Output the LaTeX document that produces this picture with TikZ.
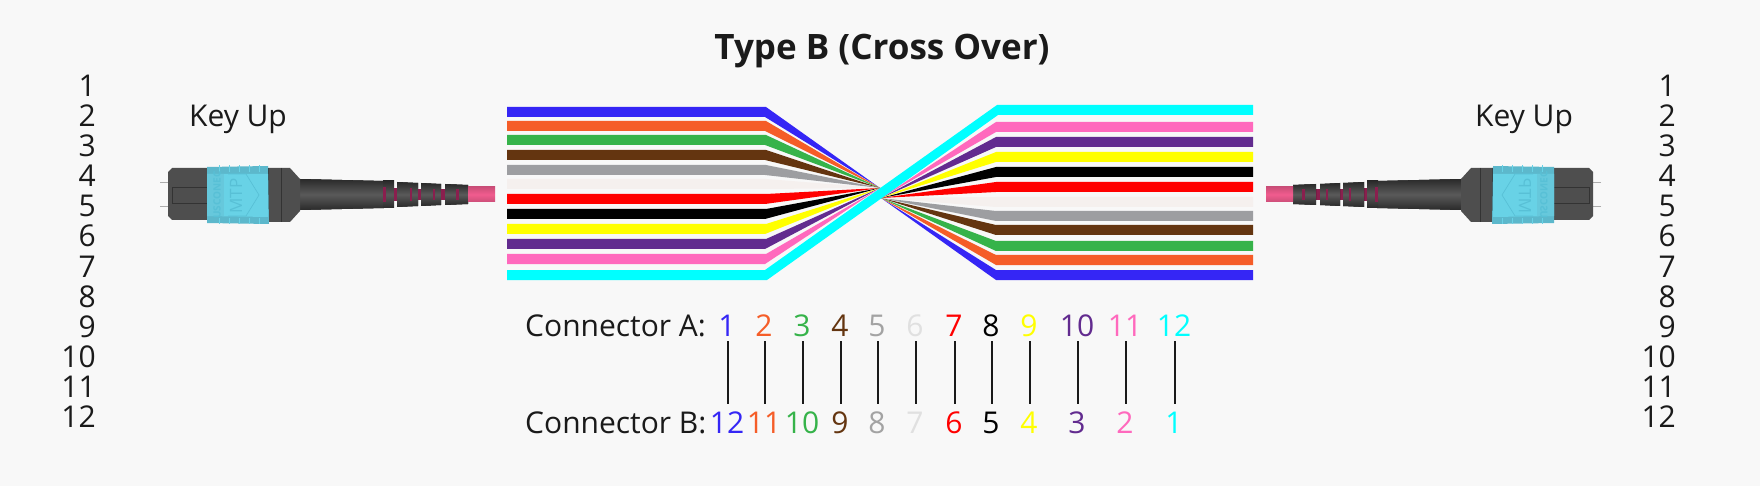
\documentclass[tikz,border=0pt]{standalone}
\usepackage{fontspec}
\setmainfont{Open Sans}
\definecolor{pagebg}{HTML}{F8F8F8}
\definecolor{inkline}{HTML}{1A1A1A}
\definecolor{wireblue}{HTML}{3526F5}
\definecolor{wireorange}{HTML}{F55D28}
\definecolor{wiregreen}{HTML}{36B34A}
\definecolor{wirebrown}{HTML}{643510}
\definecolor{wiregray}{HTML}{9D9EA1}
\definecolor{wirewhite}{HTML}{F5F0EE}
\definecolor{wirered}{HTML}{FF0000}
\definecolor{wireblack}{HTML}{000000}
\definecolor{wireyellow}{HTML}{FFFF00}
\definecolor{wirepurple}{HTML}{622B8F}
\definecolor{wirepink}{HTML}{FF69BD}
\definecolor{wirecyan}{HTML}{00FFFF}
\definecolor{digitgray}{HTML}{A3A3A3}
\definecolor{digitwhite}{HTML}{E0E0E0}
\definecolor{plugdark}{HTML}{2A2A2A}
\definecolor{plugmid}{HTML}{5A5A5A}
\definecolor{plugbody}{HTML}{4E4E4E}
\definecolor{plugedge}{HTML}{333333}
\definecolor{latchmain}{HTML}{68D2E6}
\definecolor{latchside}{HTML}{66C8DC}
\definecolor{latchrim}{HTML}{5CB8CC}
\definecolor{latchtext}{HTML}{58C0D6}
\definecolor{strainred}{HTML}{8A1F4E}
\definecolor{fiberpink}{HTML}{F05C8E}
\tikzset{
    pinnum/.style={anchor=base east,inner sep=0pt,font=\fontsize{30}{32}\selectfont,text=inkline},
    keylabel/.style={anchor=base,inner sep=0pt,font=\fontsize{30}{32}\selectfont,text=inkline},
    rowlabel/.style={anchor=base west,inner sep=0pt,font=\fontsize{30}{32}\selectfont,text=inkline},
    digit/.style={anchor=base,inner xsep=0pt,inner ysep=5pt,text height=23pt,text depth=0pt,font=\fontsize{30}{32}\selectfont},
    bootpart/.style={top color=plugdark,bottom color=plugdark,middle color=plugmid,draw=none},
}
\newcommand{\mtpplug}[1]{
    % Guide pins
    \draw[plugmid!50!white,line width=1pt] (160,183) -- (168,183);
    \draw[plugmid!50!white,line width=1pt] (160,207) -- (168,207);
    % Ferrule housing
    \fill[plugbody] (172,168) -- (208,168) -- (208,220) -- (172,220) -- (168,216) -- (168,172) -- cycle;
    \draw[plugedge,line width=.8pt] (208,187) -- (172,187) -- (172,203) -- (208,203);
    % Strain relief
    \fill[bootpart] (300,179) -- (384,181) -- (384,208) -- (300,210) -- cycle;
    \fill[bootpart] (383,181) -- (394,181) -- (394,208) -- (383,208) -- cycle;
    \fill[strainred] (394,188) rectangle (397,201);
    \fill[bootpart] (397,182) -- (418,183) -- (418,206) -- (397,207) -- cycle;
    \fill[strainred] (418,189) rectangle (421,200);
    \fill[bootpart] (421,183) -- (441,184) -- (441,205) -- (421,206) -- cycle;
    \fill[strainred] (441,189) rectangle (445,200);
    \fill[bootpart] (445,184) -- (468,185) -- (468,204) -- (445,205) -- cycle;
    % Red marks on the boot
    \fill[strainred] (383,187) rectangle (386,202);
    \fill[strainred] (410,188) rectangle (412,201);
    \fill[strainred] (433,189) rectangle (435,200);
    \fill[strainred] (456,189) rectangle (459,200);
    % Fiber stub
    \fill[top color=fiberpink!85!black,bottom color=fiberpink!85!black,middle color=fiberpink] (468,187) rectangle (495,202);
    % Rear housing
    \fill[plugbody] (268,168) -- (290,168) -- (300,179) -- (300,211) -- (290,222) -- (268,222) -- cycle;
    \draw[plugedge,line width=.8pt] (281,168) -- (281,222);
    \draw[plugedge,line width=1pt] (268.5,168) -- (268.5,222);
    % Latch
    \fill[latchrim] (207,167) -- (268,166) -- (269,224) -- (207,223) -- cycle;
    \fill[latchmain] (207,174) -- (268,174) -- (268,217) -- (207,216) -- cycle;
    \fill[latchside] (207,174) -- (224,174) -- (224,216) -- (207,216) -- cycle;
    \draw[latchtext,line width=.7pt] (228,174) -- (246,174) -- (259,195) -- (246,216) -- (228,216);
    \foreach \ribx in {219,229,239,249,259}{
        \draw[latchmain,line width=.8pt] (\ribx,165.5) -- (\ribx,172);
        \draw[latchmain,line width=.8pt] (\ribx,218) -- (\ribx,224);
    }
    \node[rotate=90,transform shape,inner sep=0pt,text=latchtext,font=\bfseries\fontsize{10}{10}\selectfont] (#1brand) at (217,195) {USCONEC};
    \node[rotate=90,transform shape,inner sep=0pt,text=latchtext,font=\fontsize{17}{17}\selectfont] (#1mtp) at (236,196) {MTP};
}
\begin{document}
\begin{tikzpicture}[x=1pt,y=-1pt]
    % Page
    \fill[pagebg] (0,0) rectangle (1760,486);
    \useasboundingbox (0,0) rectangle (1760,486);

    % Title
    \node[inner sep=0pt,anchor=base,text=inkline,font=\bfseries\fontsize{35}{37}\selectfont] (title) at (882,60) {Type B (Cross Over)};

    % Pin numbers at both sides
    \foreach \pinnr in {1,...,12}{
        \node[pinnum] (lpin\pinnr) at (96,67+30*\pinnr) {\pinnr};
        \node[pinnum] (rpin\pinnr) at (1676,67+30*\pinnr) {\pinnr};
    }

    % Key labels
    \node[keylabel] (keyleft) at (238,127) {Key Up};
    \node[keylabel] (keyright) at (1524,127) {Key Up};

    % Plugs
    \mtpplug{l}
    \begin{scope}[xshift=1761pt,xscale=-1]
        \mtpplug{r}
    \end{scope}

    % Wires, each narrows to a point at the crossing
    \foreach \lefty/\righty/\wirecol in {107/270/wireblue,121/255/wireorange,135/241/wiregreen,150/225/wirebrown,165/211/wiregray,179/197/wirewhite,194/182/wirered,209/167/wireblack,224/152/wireyellow,239/137/wirepurple,254/122/wirepink}{
        \fill[\wirecol] (507,\lefty) -- (766,\lefty) -- (880,188) -- (765,\lefty+10) -- (507,\lefty+10) -- cycle;
        \fill[\wirecol] (1253,\righty) -- (996,\righty) -- (881,198) -- (996,\righty+10) -- (1253,\righty+10) -- cycle;
    }

    % Cyan wire keeps its width
    \fill[wirecyan] (507,270) -- (765,270) -- (997,105) -- (1253,105) -- (1253,115) -- (998,115) -- (767,280) -- (507,280) -- cycle;

    % Row labels
    \node[rowlabel] (rowa) at (525,336) {Connector A:};
    \node[rowlabel] (rowb) at (525,433) {Connector B:};

    % Connector A and B numbers, joined by lines
    \foreach \pairnr/\xpos/\anum/\acol/\bnum in {1/728/1/wireblue/12,2/765/2/wireorange/11,3/803/3/wiregreen/10,4/841/4/wirebrown/9,5/878/5/digitgray/8,6/916/6/digitwhite/7,7/955/7/wirered/6,8/992/8/wireblack/5,9/1030/9/wireyellow/4,10/1078/10/wirepurple/3,11/1126/11/wirepink/2,12/1175/12/wirecyan/1}{
        \node[digit,text=\acol] (a\pairnr) at (\xpos-1,336) {\anum};
        \node[digit,text=\acol] (b\pairnr) at (\xpos-1,433) {\bnum};
        \draw[inkline,line width=1.6pt] ([xshift=1pt]a\pairnr.south) -- ([xshift=1pt,yshift=1pt]b\pairnr.north);
    }
\end{tikzpicture}
\end{document}
